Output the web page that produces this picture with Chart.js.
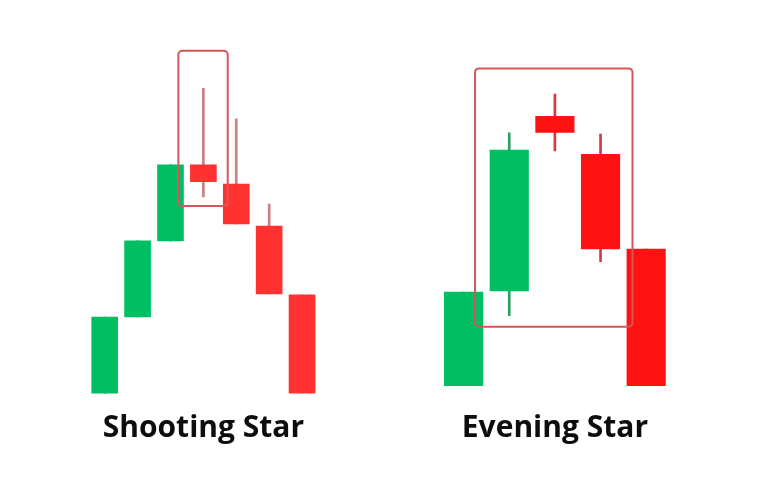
<!DOCTYPE html>
<html>
<head>
<meta charset="utf-8">
<script src="https://cdn.jsdelivr.net/npm/chart.js@4.4.1/dist/chart.umd.min.js"></script>
<style>
  html, body { margin: 0; padding: 0; background: #ffffff; }
  #wrap { position: relative; width: 768px; height: 497px; overflow: hidden; }
  canvas { position: absolute; top: 0; }
  #shootChart { left: 0; }
  #eveChart { left: 384px; }
</style>
</head>
<body>
<div id="wrap">
  <canvas id="shootChart" width="384" height="497"></canvas>
  <canvas id="eveChart" width="384" height="497"></canvas>
</div>
<script>
// Shooting Star candles
const shootLabels = ['1', '2', '3', '4', '5', '6', '7'];
const shootOpen  = [4.2, 23.3, 42.3, 61.3, 56.5, 46.0, 28.8];
const shootClose = [23.2, 42.3, 61.3, 57.1, 46.5, 29.0, 4.2];
const shootHigh  = [23.2, 42.3, 61.3, 80.4, 72.8, 51.5, 28.8];
const shootLow   = [4.2, 23.3, 42.3, 53.3, 46.5, 29.0, 4.2];
const shootBox   = [2.24, 3.74, 51.0, 89.8]; // from index, to index, low, high

// Evening Star candles
const eveLabels = ['1', '2', '3', '4', '5'];
const eveOpen  = [6.1, 29.75, 73.4, 63.9, 40.25];
const eveClose = [29.5, 65.0, 69.4, 40.3, 6.1];
const eveHigh  = [29.5, 69.3, 79.0, 69.0, 40.25];
const eveLow   = [6.1, 23.6, 64.75, 37.1, 6.1];
const eveBox   = [0.25, 3.70, 20.8, 85.4];

const titles = ['Shooting Star', 'Evening Star'];

// draws the rounded highlight box from data units
const highlightBox = {
    id: 'highlightBox',
    afterDatasetsDraw(chart, args, opts) {
        const x = chart.scales.x, y = chart.scales.y;
        const b = opts.box;
        const left = x.getPixelForValue(b[0]);
        const right = x.getPixelForValue(b[1]);
        const top = y.getPixelForValue(b[3]);
        const bottom = y.getPixelForValue(b[2]);
        const ctx = chart.ctx;
        ctx.save();
        ctx.strokeStyle = opts.color;
        ctx.lineWidth = 2;
        ctx.beginPath();
        ctx.roundRect(left, top, right - left, bottom - top, 4);
        ctx.stroke();
        ctx.restore();
    }
};

function makeCandles(canvasId, labels, open, close, high, low, box, title, style) {
    let bodies = open.map((o, i) => [o, close[i]]);
    let wicks = low.map((l, i) => [l, high[i]]);
    let up = open.map((o, i) => close[i] >= o);

    return new Chart(document.getElementById(canvasId).getContext('2d'), {
        type: 'bar',
        data: {
            labels: labels,
            datasets: [{
                label: 'body',
                data: bodies,
                backgroundColor: up.map(u => u ? style.green : style.red),
                barThickness: style.bodyWidth,
                grouped: false,
                order: 1
            }, {
                label: 'wick',
                data: wicks,
                backgroundColor: up.map(u => u ? style.wickUp : style.wickDown),
                barThickness: 2,
                grouped: false,
                order: 2
            }]
        },
        options: {
            responsive: false,
            animation: false,
            devicePixelRatio: 1,
            layout: { padding: { left: style.padLeft, right: style.padRight, top: 0, bottom: 0 } },
            scales: {
                x: { display: false, offset: true },
                y: { display: false, min: 0, max: 102.5 }
            },
            plugins: {
                legend: { display: false },
                tooltip: { enabled: false },
                title: {
                    display: true,
                    text: title,
                    position: 'bottom',
                    color: '#0d0d0d',
                    font: { family: 'Open Sans', size: 30, weight: 'bold', lineHeight: 1.2 },
                    padding: { top: 0, bottom: 51 }
                },
                highlightBox: { box: box, color: '#d4575a' }
            }
        },
        plugins: [highlightBox]
    });
}

makeCandles('shootChart', shootLabels, shootOpen, shootClose, shootHigh, shootLow, shootBox, titles[0], {
    green: '#00bf63', red: '#ff3131', wickUp: '#2a9d5c', wickDown: '#cc7f86',
    bodyWidth: 26, padLeft: 88.25, padRight: 65.5
});

makeCandles('eveChart', eveLabels, eveOpen, eveClose, eveHigh, eveLow, eveBox, titles[1], {
    green: '#00bf63', red: '#ff1212', wickUp: '#2f9e63', wickDown: '#d63a3e',
    bodyWidth: 38.5, padLeft: 56.8, padRight: 99
});
</script>
</body>
</html>
